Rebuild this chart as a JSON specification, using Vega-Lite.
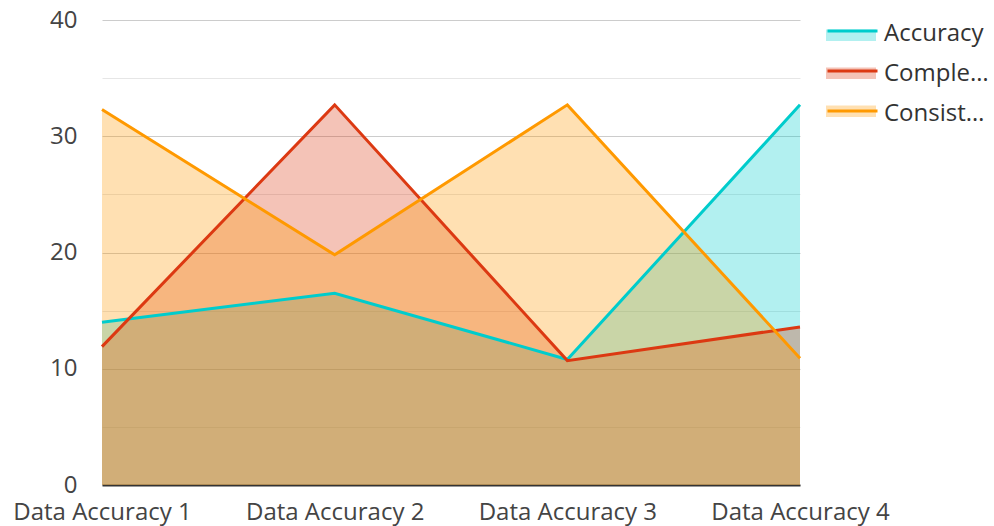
{
  "$schema": "https://vega.github.io/schema/vega-lite/v6.json",
  "width": 698,
  "height": 465,
  "autosize": {"type": "none"},
  "padding": {"left": 102, "top": 20, "right": 194, "bottom": 41},
  "config": {
    "view": {"stroke": null},
    "font": "Open Sans",
    "legend": {"padding": 0}
  },
  "data": {
    "values": [
      {"category": "Data Accuracy 1", "series": "Accuracy", "value": 14.0},
      {"category": "Data Accuracy 2", "series": "Accuracy", "value": 16.5},
      {"category": "Data Accuracy 3", "series": "Accuracy", "value": 10.8},
      {"category": "Data Accuracy 4", "series": "Accuracy", "value": 32.7},
      {"category": "Data Accuracy 1", "series": "Completeness", "value": 11.9},
      {"category": "Data Accuracy 2", "series": "Completeness", "value": 32.7},
      {"category": "Data Accuracy 3", "series": "Completeness", "value": 10.7},
      {"category": "Data Accuracy 4", "series": "Completeness", "value": 13.6},
      {"category": "Data Accuracy 1", "series": "Consistency", "value": 32.3},
      {"category": "Data Accuracy 2", "series": "Consistency", "value": 19.8},
      {"category": "Data Accuracy 3", "series": "Consistency", "value": 32.7},
      {"category": "Data Accuracy 4", "series": "Consistency", "value": 10.9}
    ]
  },
  "encoding": {
    "x": {
      "field": "category",
      "type": "ordinal",
      "scale": {"type": "point", "padding": 0},
      "axis": {
        "title": null,
        "labelAngle": 0,
        "labelFontSize": 24,
        "labelColor": "#444444",
        "ticks": false,
        "domainColor": "#333333",
        "domainWidth": 2,
        "labelPadding": 15,
        "grid": false
      }
    },
    "y": {
      "field": "value",
      "type": "quantitative",
      "stack": null,
      "scale": {"domain": [0, 40], "nice": false},
      "axis": {
        "title": null,
        "values": [0, 5, 10, 15, 20, 25, 30, 35, 40],
        "labelExpr": "datum.value % 10 === 0 ? datum.label : ''",
        "labelOverlap": false,
        "grid": true,
        "gridColor": {"condition": {"test": "datum.value % 10 === 0", "value": "#cccccc"}, "value": "#e6e6e6"},
        "domain": false,
        "ticks": false,
        "labelPadding": 25,
        "labelFontSize": 24,
        "labelColor": "#444444"
      }
    }
  },
  "layer": [
    {
      "mark": {"type": "area", "fillOpacity": 0.3},
      "encoding": {
        "fill": {
          "field": "series",
          "type": "nominal",
          "scale": {"domain": ["Accuracy", "Completeness", "Consistency"], "range": ["#00CCCC", "#DC3912", "#FF9900"]},
          "legend": {
            "title": null,
            "orient": "none",
            "legendX": 729,
            "legendY": -8,
            "symbolType": "M-1.25,-0.12H1.25V0.45H-1.25Z",
            "symbolSize": 1600,
            "symbolOpacity": 0.3,
            "symbolStrokeWidth": 0,
            "labelFontSize": 24,
            "labelExpr": "''",
            "labelOffset": 14,
            "labelLimit": 105,
            "rowPadding": 6
          }
        }
      }
    },
    {
      "mark": {"type": "line", "strokeWidth": 3},
      "encoding": {
        "stroke": {
          "field": "series",
          "type": "nominal",
          "scale": {"range": ["#00CCCC", "#DC3912", "#FF9900"]},
          "legend": {
            "title": null,
            "orient": "none",
            "legendX": 729,
            "legendY": -8,
            "symbolType": "M-1.25,-0.12H1.25",
            "symbolSize": 1600,
            "symbolStrokeWidth": 3,
            "symbolFillColor": "transparent",
            "labelFontSize": 24,
            "labelColor": "#333333",
            "labelOffset": 10,
            "labelLimit": 105,
            "rowPadding": 6
          }
        }
      }
    }
  ]
}
